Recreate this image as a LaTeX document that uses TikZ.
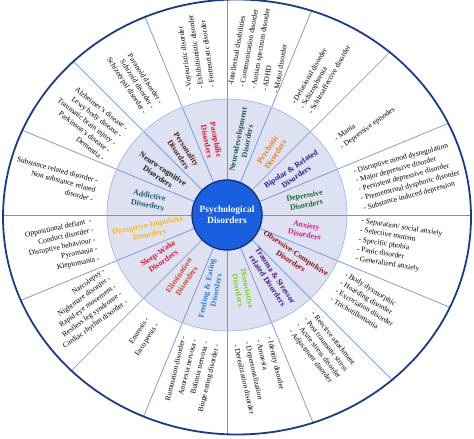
\documentclass[tikz,border=0pt]{standalone}
\usepackage{fontspec}
\setmainfont{Liberation Serif}
\usetikzlibrary{calc}

\definecolor{rimblue}{HTML}{1B3A8C}
\definecolor{spokeblue}{HTML}{6B93DB}
\definecolor{ringfill}{HTML}{DDE1F2}
\definecolor{ringedge}{HTML}{A9BDE6}
\definecolor{hubfill}{HTML}{1A5FE0}
\definecolor{hubedge}{HTML}{0F2F7F}
\definecolor{cPers}{HTML}{4A1E1E}
\definecolor{cPara}{HTML}{E3162B}
\definecolor{cNdev}{HTML}{1E5B4B}
\definecolor{cPsyc}{HTML}{F08020}
\definecolor{cBipo}{HTML}{2D1E8C}
\definecolor{cDepr}{HTML}{1D6B28}
\definecolor{cAnxi}{HTML}{E0188C}
\definecolor{cObse}{HTML}{8E1515}
\definecolor{cTrau}{HTML}{4A1A8A}
\definecolor{cDiss}{HTML}{7ED321}
\definecolor{cFeed}{HTML}{2F80E0}
\definecolor{cElim}{HTML}{D4472A}
\definecolor{cSlee}{HTML}{E3162B}
\definecolor{cDisr}{HTML}{F5B81E}
\definecolor{cAddi}{HTML}{1E5A6A}
\definecolor{cNcog}{HTML}{1A1A1A}

\tikzset{
  item/.style={font=\fontsize{7.5}{9.6}\selectfont, inner sep=0pt},
  wide/.style={font=\fontsize{7.5}{11.5}\selectfont},
  outL/.style={item, anchor=west, align=left},
  outR/.style={item, anchor=east, align=right},
  group/.style={font=\fontsize{8}{9.5}\selectfont\bfseries, align=center, inner sep=0pt},
  hub/.style={circle, draw=hubedge, line width=1.3pt, fill=hubfill, minimum size=70pt,
    inner sep=0pt, text=white, align=center, font=\fontsize{9.5}{11.5}\selectfont\bfseries}
}

\begin{document}
\begin{tikzpicture}[x=1pt,y=1pt]
\useasboundingbox (0,0) rectangle (474,439);
\coordinate (c) at (227,224);

% wheel
\begin{scope}
\clip (237,222) ellipse [x radius=235, y radius=218.5];
\fill[ringfill] (c) ellipse [x radius=120, y radius=116];
\foreach \a in {0,22.5,...,337.5}
  \draw[spokeblue, line width=0.7pt] (c) -- ++(\a:320);
\end{scope}
\draw[ringedge, line width=0.8pt] (c) ellipse [x radius=120, y radius=116];
\draw[rimblue, line width=1.8pt] (237,222) ellipse [x radius=234, y radius=217.5];

\node[hub] (hub) at (c) {Psychological\\Disorders};

% groups
\node[group, text=cPers, rotate=-56.25] (pers) at ($(c)+(123.75:80 and 76)$) {Personality\\Disorders};
\node[group, text=cPara, rotate=-78.75] (para) at ($(c)+(101.25:80 and 76)$) {Paraphilic\\Disorders};
\node[group, text=cNdev, rotate=78.75] (ndev) at ($(c)+(78.75:80 and 76)$) {Neurodevelopment\\Disorders};
\node[group, text=cPsyc, rotate=56.25] (psyc) at ($(c)+(56.25:80 and 76)$) {Psychotic\\Disorders};
\node[group, text=cBipo, rotate=33.75] (bipo) at ($(c)+(33.75:80 and 76)$) {Bipolar \& Related\\Disorders};
\node[group, text=cDepr, rotate=11.25] (depr) at ($(c)+(11.25:80 and 76)$) {Depressive\\Disorders};
\node[group, text=cAnxi, rotate=-11.25] (anxi) at ($(c)+(-11.25:80 and 76)$) {Anxiety\\Disorders};
\node[group, text=cObse, rotate=-33.75] (obse) at ($(c)+(-33.75:80 and 76)$) {Obsessive-Compulsive\\Disorders};
\node[group, text=cTrau, rotate=-56.25] (trau) at ($(c)+(-56.25:80 and 76)$) {Trauma \& Stressor\\related Disorders};
\node[group, text=cDiss, rotate=-78.75] (diss) at ($(c)+(-78.75:80 and 76)$) {Dissociative\\Disorders};
\node[group, text=cFeed, rotate=78.75] (feed) at ($(c)+(258.75:80 and 76)$) {Feeding \& Eating\\Disorders};
\node[group, text=cElim, rotate=56.25] (elim) at ($(c)+(236.25:80 and 76)$) {Elimination\\Disorders};
\node[group, text=cSlee, rotate=33.75] (slee) at ($(c)+(213.75:80 and 76)$) {Sleep-Wake\\Disorders};
\node[group, text=cDisr, rotate=11.25] (disr) at ($(c)+(191.25:80 and 76)$) {Disruptive-Impulsive\\Disorders};
\node[group, text=cAddi, rotate=-11.25] (addi) at ($(c)+(168.75:80 and 76)$) {Addictive\\Disorders};
\node[group, text=cNcog, rotate=-33.75] (ncog) at ($(c)+(146.25:80 and 76)$) {Neuro-cognitive\\Disorders};

% lists, right half
\node[outL, rotate=15] (deprList) at ($(c)+(11.25:134 and 128)$) {- Disruptive mood dysregulation\\- Major depressive disorder\\- Persistent depressive disorder\\- Premenstrual dysphoric disorder\\- Substance induced depression};
\node[outL, rotate=36] (bipoList) at ($(c)+(33.75:134 and 128)$) {- Mania\\- Depressive episodes};
\node[outL, rotate=60] (psycList) at ($(c)+(56.25:134 and 128)$) {- Delusional disorder\\- Schizophrenia\\- Schizoaffective disorder};
\node[outL, wide, rotate=80] (ndevList) at ($(c)+(78.75:134 and 128)$) {-Intellectual disabilities\\- Communication disorder\\- Autism spectrum disorder\\- ADHD\\- Motor disorder};
\node[outL, wide, rotate=98] (paraList) at ($(c)+(101.25:134 and 128)$) {- Voyeuristic disorder\\- Exhibitionistic disorder\\- Frotteuristic disorder};
\node[outL, rotate=-9] (anxiList) at ($(c)+(-11.25:134 and 128)$) {- Separation/ social anxiety\\- Selective mutism\\- Specific phobia\\- Panic disorder\\- Generalized anxiety};
\node[outL, rotate=-31] (obseList) at ($(c)+(-33.75:134 and 128)$) {- Body dysmorphic\\- Hoarding disorder\\- Excoriation disorder\\- Trichotillomania};
\node[outL, rotate=-52] (trauList) at ($(c)+(-56.25:134 and 128)$) {- Reactive attachment\\- Post traumatic stress\\- Acute stress disorder\\- Adjustment disorder};
\node[outL, wide, rotate=-77] (dissList) at ($(c)+(-78.75:134 and 128)$) {- Identity disorder\\- Amnesia\\- Depersonalization\\- Derealization disorder};

% lists, left half
\node[outR, rotate=-57] (persList) at ($(c)+(123.75:134 and 128)$) {Paranoid disorder -\\Schizoid disorder -\\Schizotypal disorder -};
\node[outR, rotate=-38] (ncogList) at ($(c)+(146.25:134 and 128)$) {Alzheimer's disease -\\Lewy body disease -\\Traumatic brain injury -\\Parkinson's disease -\\Dementia -};
\node[outR, rotate=-15] (addiList) at ($(c)+(168.75:134 and 128)$) {Substance related disorder -\\Non substance related\\disorder -};
\node[outR, rotate=12] (disrList) at ($(c)+(191.25:134 and 128)$) {Oppositional defiant\ \ -\\Conduct disorder -\\Disruptive behaviour -\\Pyromania -\\Kleptomania -};
\node[outR, rotate=36] (sleeList) at ($(c)+(213.75:134 and 128)$) {Narcolepsy -\\Nightmare disorder -\\Rapid eye movement -\\Restless leg syndrome -\\Cardiac rhythm disorder -};
\node[outR, wide, rotate=57] (elimList) at ($(c)+(236.25:134 and 128)$) {Enuresis -\\Encopresis -};
\node[outR, wide, rotate=76] (feedList) at ($(c)+(258.75:134 and 128)$) {Rumination disorder -\\Anorexia nervosa -\\Bulimia nervosa -\\Binge eating disorder -};
\end{tikzpicture}
\end{document}
